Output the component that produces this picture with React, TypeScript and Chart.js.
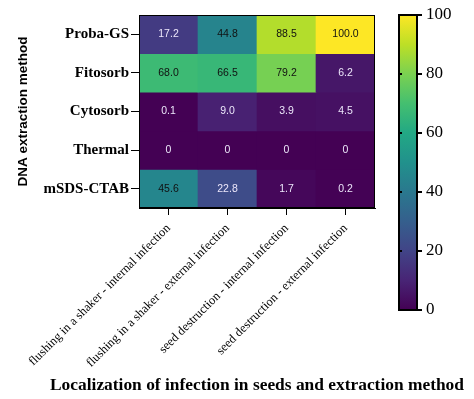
import React, { useEffect, useRef } from "react";
import { Chart, registerables } from "chart.js";

Chart.register(...registerables);

const COLUMNS = [
  "flushing in a shaker - internal infection",
  "flushing in a shaker - external infection",
  "seed destruction - internal infection",
  "seed destruction - external infection",
];
const METHODS = ["Proba-GS", "Fitosorb", "Cytosorb", "Thermal", "mSDS-CTAB"];
const PROBA_GS = [17.2, 44.8, 88.5, 100.0];
const FITOSORB = [68.0, 66.5, 79.2, 6.2];
const CYTOSORB = [0.1, 9.0, 3.9, 4.5];
const THERMAL = [0, 0, 0, 0];
const MSDS_CTAB = [45.6, 22.8, 1.7, 0.2];
const ROWS = [PROBA_GS, FITOSORB, CYTOSORB, THERMAL, MSDS_CTAB];
const COLORBAR_RANGE = [0, 100];
const COLORBAR_STEP = 20;
const X_TITLE = "Localization of infection in seeds and extraction method";
const Y_TITLE = "DNA extraction method";

const VIRIDIS = [
  "#440154", "#482475", "#414487", "#355f8d", "#2a788e", "#21918c",
  "#22a884", "#44bf70", "#7ad151", "#bddf26", "#fde725",
];

function hexToRgb(h: string) {
  return [parseInt(h.slice(1, 3), 16), parseInt(h.slice(3, 5), 16), parseInt(h.slice(5, 7), 16)];
}
function viridis(t: number) {
  const c = Math.max(0, Math.min(1, t)) * (VIRIDIS.length - 1);
  const i = Math.min(VIRIDIS.length - 2, Math.floor(c));
  const f = c - i;
  const a = hexToRgb(VIRIDIS[i]);
  const b = hexToRgb(VIRIDIS[i + 1]);
  const m = a.map((v, k) => Math.round(v + (b[k] - v) * f));
  return `rgb(${m[0]},${m[1]},${m[2]})`;
}
const fmt = (v: number) => (v === 0 ? "0" : v.toFixed(1));

const SERIF = "'Liberation Serif', 'DejaVu Serif', serif";
const SANS = "'Liberation Sans', Arial, sans-serif";

export default function App() {
  const mainRef = useRef<HTMLCanvasElement>(null);
  const barRef = useRef<HTMLCanvasElement>(null);

  useEffect(() => {
    const valuePlugin = {
      id: "cellValues",
      afterDatasetsDraw(chart: any) {
        const ctx = chart.ctx;
        ctx.save();
        ctx.font = `10.5px ${SANS}`;
        ctx.textAlign = "center";
        ctx.textBaseline = "middle";
        chart.data.datasets.forEach((ds: any, di: number) => {
          const meta = chart.getDatasetMeta(di);
          meta.data.forEach((el: any, j: number) => {
            const p = el.getProps(["x", "y", "base"], true);
            const v = ds.values[j];
            ctx.fillStyle = v > 30 ? "#111111" : "#ece6fa";
            ctx.fillText(fmt(v), p.x, (p.y + p.base) / 2);
          });
        });
        const a = chart.chartArea;
        ctx.strokeStyle = "#000";
        ctx.lineWidth = 1;
        ctx.strokeRect(a.left + 0.5, a.top + 0.5, a.right - a.left - 1, a.bottom - a.top - 1);
        // x axis title, centred under the plot area
        ctx.fillStyle = "#000";
        ctx.font = `bold 17.4px ${SERIF}`;
        ctx.textAlign = "center";
        ctx.textBaseline = "middle";
        ctx.fillText(X_TITLE, (a.left + a.right) / 2, chart.height - 13);
        ctx.restore();
      },
    };

    const main = new Chart(mainRef.current!, {
      type: "bar",
      data: {
        labels: COLUMNS,
        datasets: ROWS.map((vals, i) => ({
          label: METHODS[i],
          data: vals.map(() => [i, i + 1]),
          values: vals,
          backgroundColor: vals.map((v) => viridis(v / 100)),
          borderWidth: 0,
          grouped: false,
          barPercentage: 1,
          categoryPercentage: 1,
        })) as any,
      },
      options: {
        animation: false,
        responsive: false,
        layout: { padding: { left: 0, top: 15, right: 99, bottom: 0 } },
        plugins: { legend: { display: false }, tooltip: { enabled: false } },
        scales: {
          x: {
            type: "category",
            offset: true,
            grid: { offset: false, drawOnChartArea: false, drawTicks: true, tickLength: 7, color: "#000" },
            border: { display: true, color: "#000" },
            ticks: {
              autoSkip: false,
              minRotation: 45,
              maxRotation: 45,
              padding: 6,
              color: "#000",
              font: { family: SERIF, size: 12.5 },
            },
            afterFit: (axis: any) => {
              axis.height = 191;
            },
          },
          y: {
            type: "linear",
            min: 0,
            max: METHODS.length,
            reverse: true,
            afterBuildTicks: (axis: any) => {
              axis.ticks = METHODS.map((_, i) => ({ value: i + 0.5 }));
            },
            grid: { drawOnChartArea: false, drawTicks: true, tickLength: 8, color: "#000" },
            border: { display: true, color: "#000" },
            ticks: {
              padding: 2,
              color: "#000",
              font: { family: SERIF, size: 15, weight: "bold" },
              callback: (_v: any, idx: number) => METHODS[idx],
            },
            title: {
              display: true,
              text: Y_TITLE,
              color: "#000",
              font: { family: SANS, size: 13.5, weight: "bold" },
              padding: { top: 15, bottom: 0 },
            },
            afterFit: (axis: any) => {
              axis.width = 139;
            },
          },
        },
      } as any,
      plugins: [valuePlugin],
    });

    const barPlugin = {
      id: "barFrame",
      afterDatasetsDraw(chart: any) {
        const ctx = chart.ctx;
        const a = chart.chartArea;
        const ys = chart.scales.y;
        ctx.save();
        ctx.strokeStyle = "#000";
        ctx.lineWidth = 2;
        ctx.strokeRect(a.left, a.top, a.right - a.left, a.bottom - a.top);
        ys.ticks.forEach((t: any) => {
          const y = ys.getPixelForValue(t.value);
          ctx.beginPath();
          ctx.moveTo(a.left, y);
          ctx.lineTo(a.left + 3, y);
          ctx.stroke();
        });
        ctx.restore();
      },
    };

    const bar = new Chart(barRef.current!, {
      type: "bar",
      data: {
        labels: ["scale"],
        datasets: [
          {
            data: [COLORBAR_RANGE],
            borderWidth: 0,
            barPercentage: 1,
            categoryPercentage: 1,
            backgroundColor: (c: any) => {
              const area = c.chart.chartArea;
              if (!area) return VIRIDIS[0];
              const g = c.chart.ctx.createLinearGradient(0, area.bottom, 0, area.top);
              VIRIDIS.forEach((col, k) => g.addColorStop(k / (VIRIDIS.length - 1), col));
              return g;
            },
          },
        ] as any,
      },
      options: {
        animation: false,
        responsive: false,
        layout: { padding: { left: 9, top: 15, right: 0, bottom: 89 } },
        plugins: { legend: { display: false }, tooltip: { enabled: false } },
        scales: {
          x: { display: false },
          y: {
            position: "right",
            min: COLORBAR_RANGE[0],
            max: COLORBAR_RANGE[1],
            ticks: { stepSize: COLORBAR_STEP, color: "#000", padding: 4, font: { family: SERIF, size: 17 } },
            grid: { drawOnChartArea: false, drawTicks: true, tickLength: 5, color: "#000", lineWidth: 2 },
            border: { display: false },
            afterFit: (axis: any) => {
              axis.width = 57;
            },
          },
        },
      } as any,
      plugins: [barPlugin],
    });

    return () => {
      main.destroy();
      bar.destroy();
    };
  }, []);

  return (
    <div style={{ position: "absolute", left: 0, top: 0, width: 474, height: 399, background: "#fff" }}>
      <canvas ref={mainRef} width={474} height={399} style={{ position: "absolute", left: 0, top: 0 }} />
      <canvas ref={barRef} width={84} height={399} style={{ position: "absolute", left: 390, top: 0 }} />
    </div>
  );
}
